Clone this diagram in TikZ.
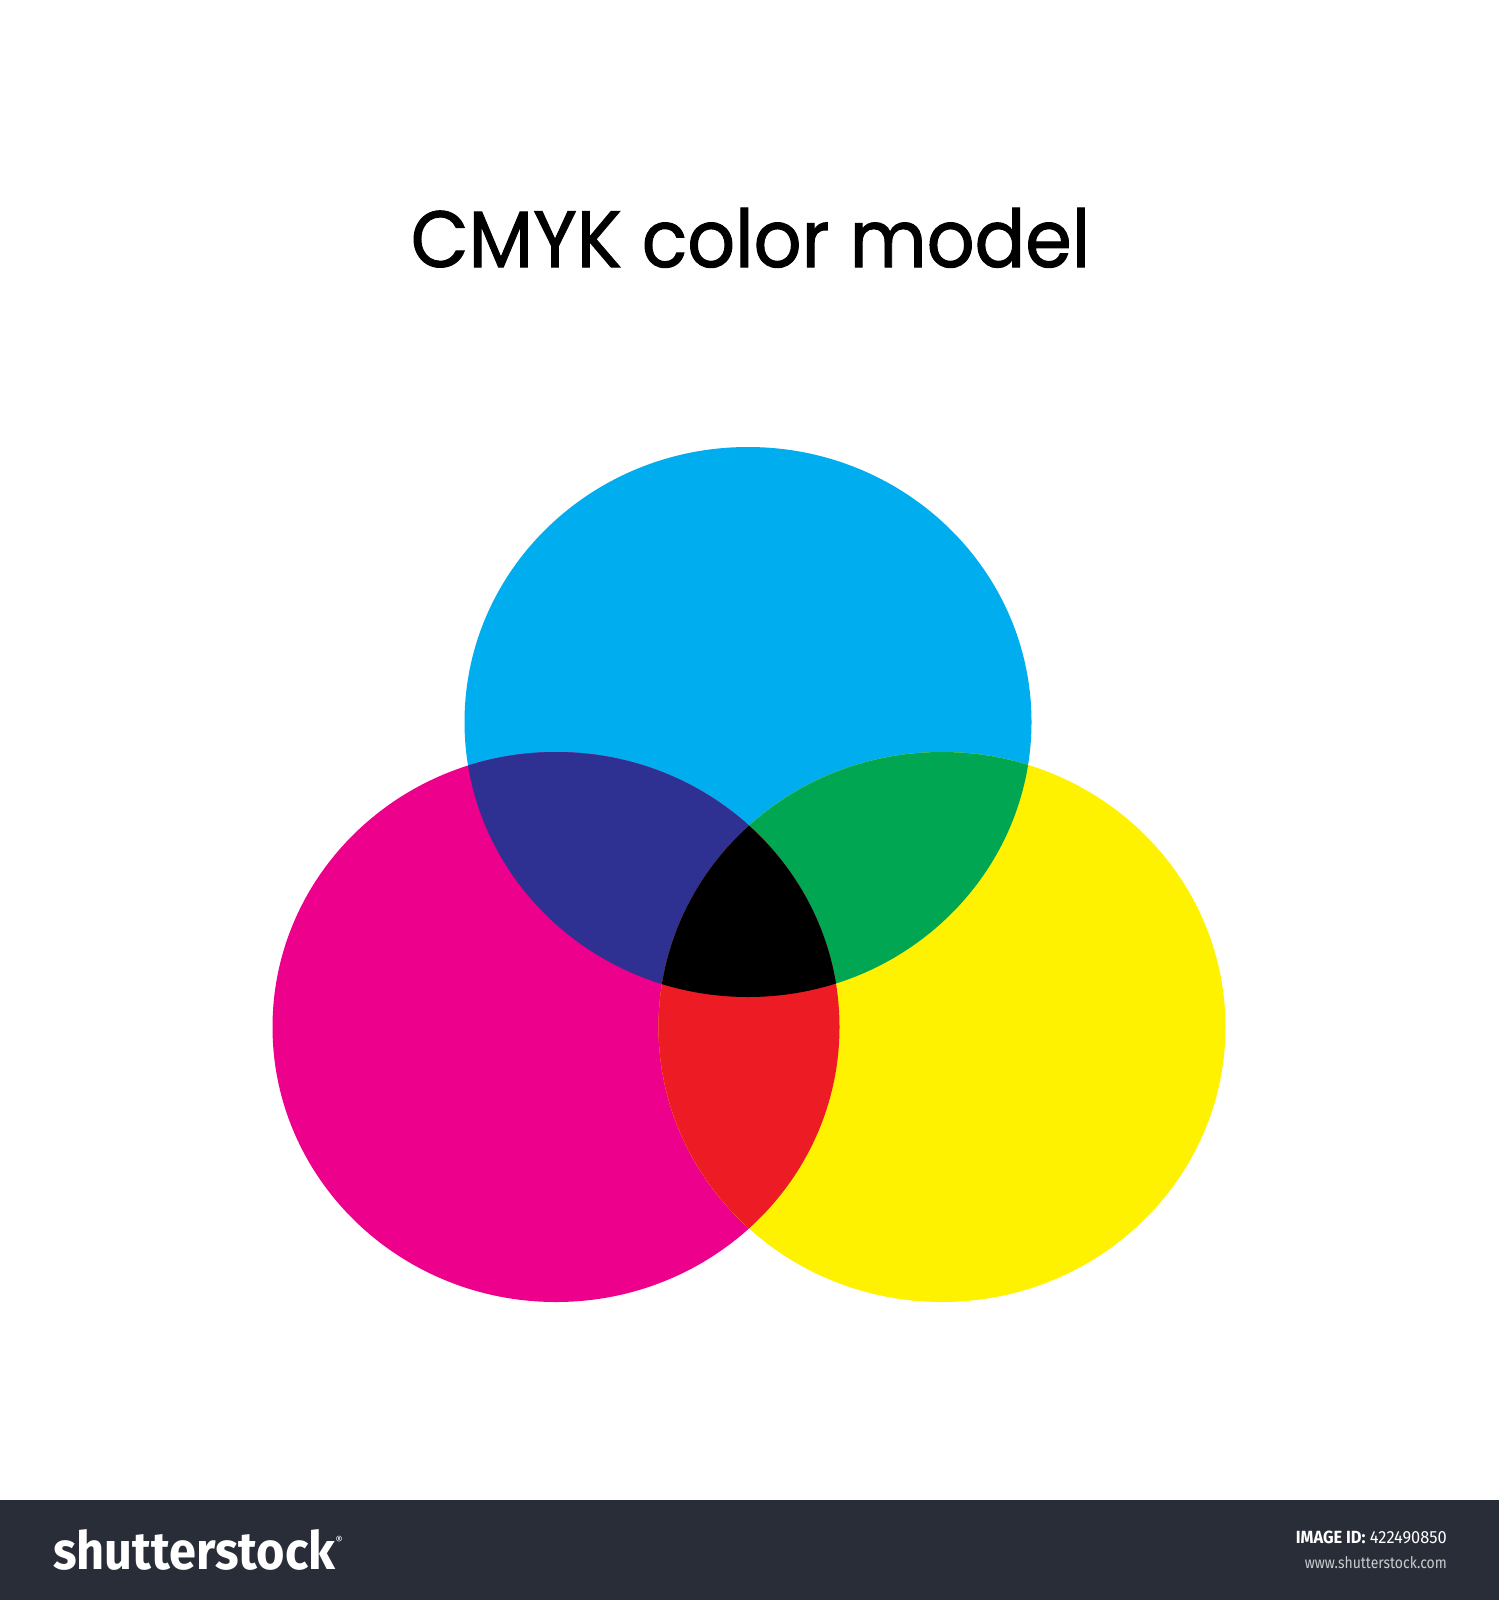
\documentclass[tikz,border=0pt]{standalone}
\usepackage{fontspec}
\setmainfont{Poppins}
\newfontfamily\titlefont{Poppins}[FakeBold=1.3]
\newfontfamily\logofont{Fira Sans}
\definecolor{cmykC}{HTML}{00ADEF}
\definecolor{cmykM}{HTML}{EC008C}
\definecolor{cmykY}{HTML}{FFF200}
\definecolor{cmykB}{HTML}{2E3192}
\definecolor{cmykG}{HTML}{00A651}
\definecolor{cmykR}{HTML}{ED1C24}
\definecolor{barcol}{HTML}{282D38}
\definecolor{urlcol}{HTML}{C9CBCF}
\begin{document}
\begin{tikzpicture}[x=1pt,y=-1pt]
\useasboundingbox (0,0) rectangle (1499,1600);
\fill[white] (0,0) rectangle (1499,1600);
\def\rx{283.5pt}
\def\ry{275pt}
\coordinate (cC) at (748,722);
\coordinate (cM) at (556,1027);
\coordinate (cY) at (942,1027);
% base discs
\fill[cmykC] (cC) ellipse [x radius=\rx, y radius=\ry];
\fill[cmykM] (cM) ellipse [x radius=\rx, y radius=\ry];
\fill[cmykY] (cY) ellipse [x radius=\rx, y radius=\ry];
% pairwise overlaps
\begin{scope}
  \clip (cC) ellipse [x radius=\rx, y radius=\ry];
  \fill[cmykB] (cM) ellipse [x radius=\rx, y radius=\ry];
  \fill[cmykG] (cY) ellipse [x radius=\rx, y radius=\ry];
\end{scope}
\begin{scope}
  \clip (cM) ellipse [x radius=\rx, y radius=\ry];
  \fill[cmykR] (cY) ellipse [x radius=\rx, y radius=\ry];
\end{scope}
\begin{scope}
  \clip (cC) ellipse [x radius=\rx, y radius=\ry];
  \clip (cM) ellipse [x radius=\rx, y radius=\ry];
  \fill[black] (cY) ellipse [x radius=\rx, y radius=\ry];
\end{scope}
% title
\node[anchor=base, inner sep=0pt] (title) at (750.5,267)
  {\resizebox{679pt}{59pt}{\titlefont CMYK color model}};
% bottom bar
\fill[barcol] (0,1500) rectangle (1499,1600);
\node[anchor=base west, inner sep=0pt, text=white] (logo) at (53,1569)
  {\resizebox{282pt}{40pt}{\logofont\bfseries shutterstock}};
\node[anchor=base west, inner sep=0pt, text=white, font=\logofont\fontsize{11}{11}\selectfont] (reg) at (logo.base east) {\raisebox{25pt}{®}};
\node[anchor=base east, inner sep=0pt, text=white] (imgid) at (1447,1543)
  {\resizebox{151pt}{12.5pt}{\logofont{\bfseries IMAGE ID:} 422490850}};
\node[anchor=base east, inner sep=0pt, text=urlcol] (url) at (1447,1568)
  {\resizebox{142pt}{12pt}{\logofont www.shutterstock.com}};
\end{tikzpicture}
\end{document}
